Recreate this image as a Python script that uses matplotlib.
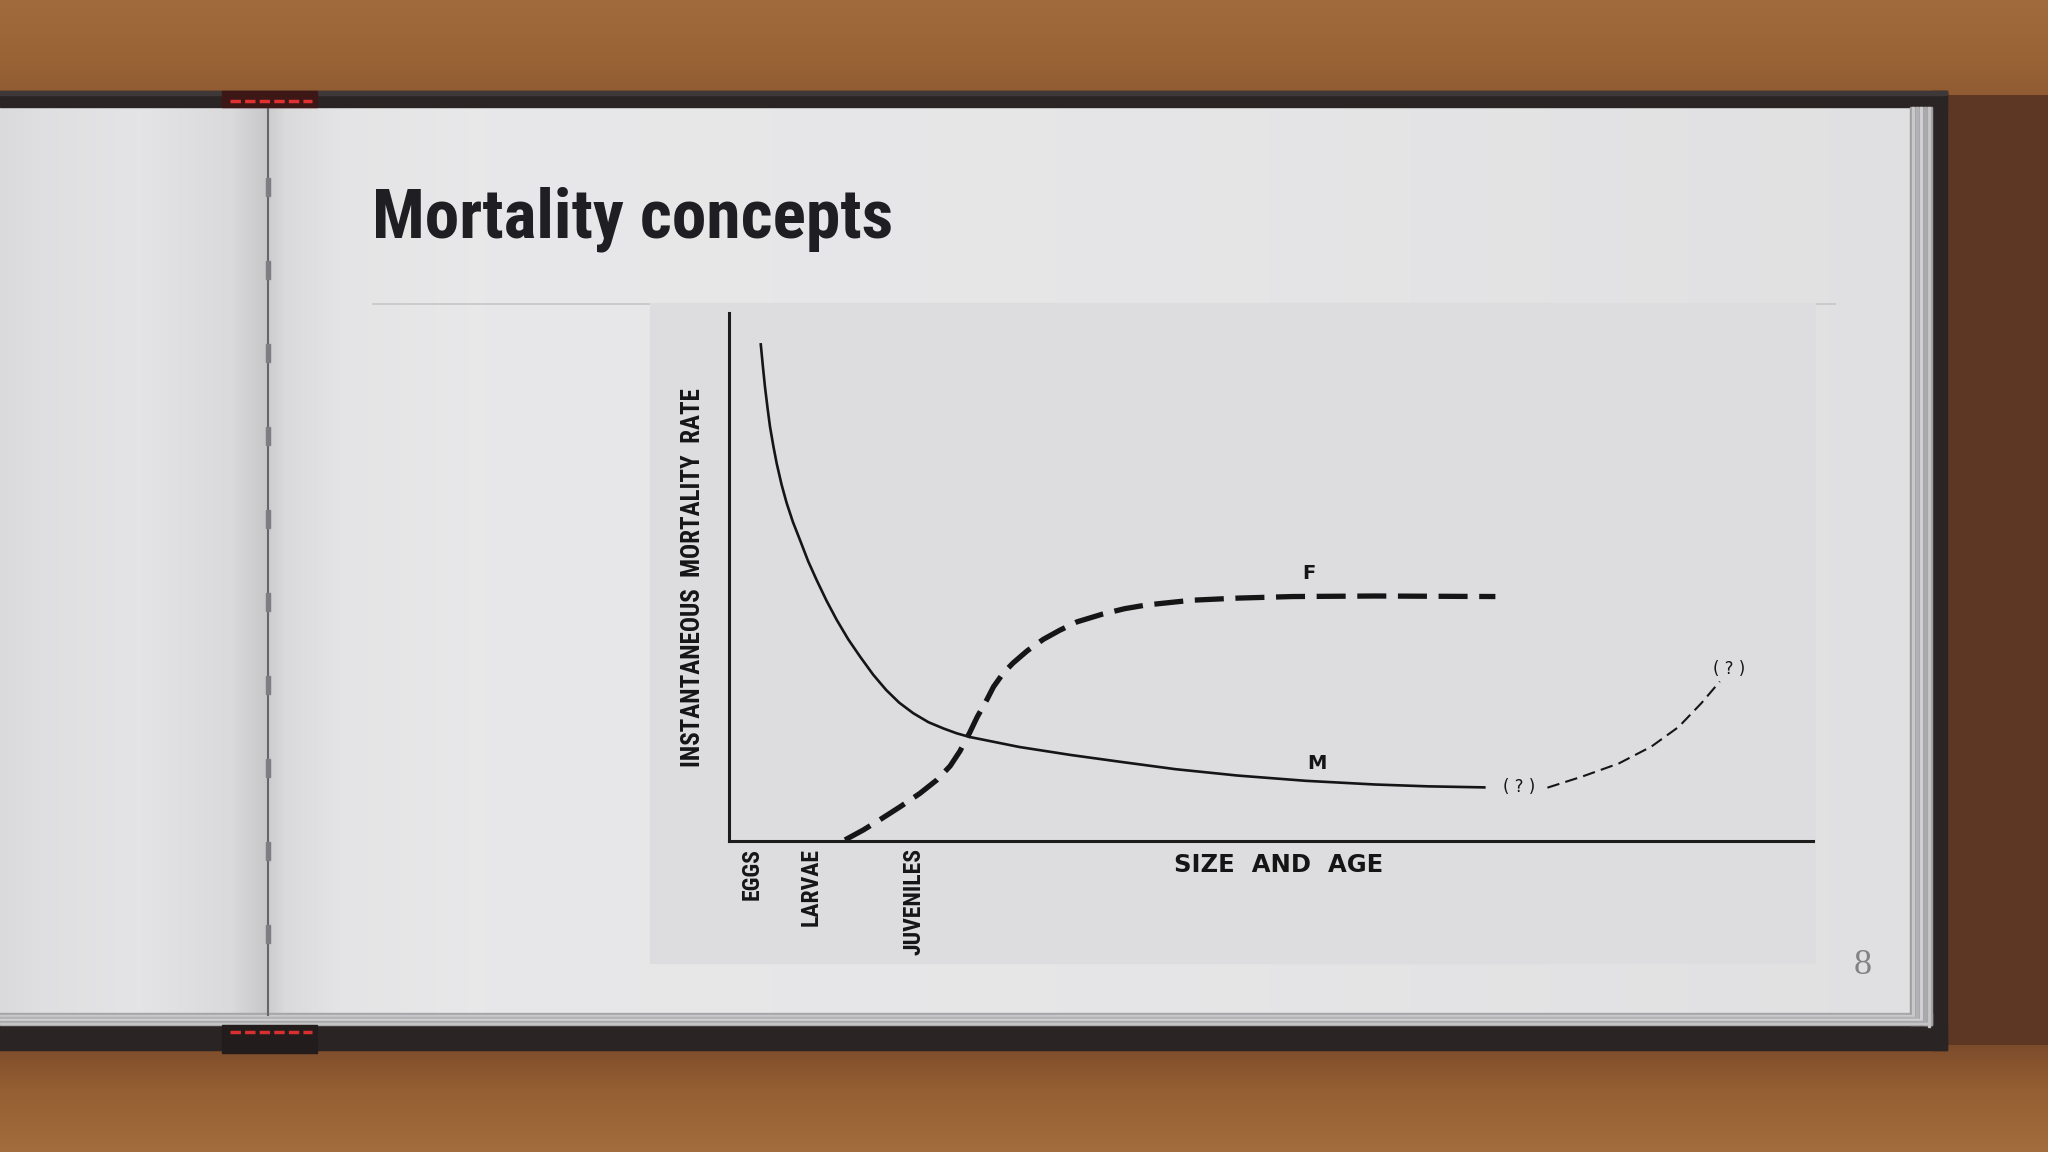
import numpy as np
import matplotlib
matplotlib.use('Agg')
import matplotlib.pyplot as plt
from matplotlib import font_manager as fm
from matplotlib.colors import to_rgb
from matplotlib.patches import Rectangle, FancyBboxPatch


# M curve (natural mortality), solid part
m_x = [2.92, 3.12, 3.32, 3.55, 3.78, 4.1, 4.4, 4.85, 5.32, 5.9, 6.55, 7.3, 8.09,
       9.0, 9.93, 11.0, 12.1, 13.3, 14.5, 15.7, 17.0, 18.4, 19.8, 21.0, 22.2,
       26.8, 31.5, 36.1, 41.2, 46.9, 53.2, 59.6, 64.5, 69.8]
m_y = [94.3, 90.0, 86.0, 82.1, 78.5, 74.7, 71.5, 67.5, 64.0, 60.4, 57.0, 53.0,
       49.4, 45.5, 41.9, 38.2, 34.9, 31.5, 28.6, 26.2, 24.2, 22.5, 21.3, 20.4,
       19.7, 17.8, 16.3, 15.0, 13.6, 12.4, 11.4, 10.7, 10.35, 10.15]

# M uncertain tail (thin dashed)
q_x = [75.5, 78.7, 82.1, 85.1, 87.6, 89.7, 91.4]
q_y = [10.1, 12.2, 14.7, 17.9, 21.6, 26.1, 30.2]

# F curve (fishing mortality), thick dashed
f_x = [10.7, 12.4, 13.9, 15.8, 17.6, 19.2, 20.4, 21.3, 22.2, 22.9, 23.8, 24.4,
       25.3, 26.2, 27.5, 29.0, 30.5, 32.1, 34.5, 36.5, 38.5, 42.7, 46.9, 52.0,
       59.6, 70.7]
f_y = [0.2, 2.1, 4.0, 6.5, 9.0, 11.6, 14.2, 17.0, 20.5, 23.5, 26.8, 29.2,
       31.8, 33.7, 36.0, 38.2, 39.9, 41.5, 43.0, 44.0, 44.7, 45.6, 46.0, 46.3,
       46.4, 46.3]

stage_labels = ['EGGS', 'LARVAE', 'JUVENILES']
stage_x = [2.1, 7.6, 17.1]

title = 'Mortality concepts'
page_number = '8'


def pick(names):
    for n in names:
        try:
            fm.findfont(fm.FontProperties(family=n), fallback_to_default=False)
            return n
        except ValueError:
            pass
    return 'DejaVu Sans'


narrow = pick(['Liberation Sans Narrow', 'Roboto Condensed', 'DejaVu Sans'])
serif = pick(['Liberation Serif', 'DejaVu Serif'])

W, H = 2048, 1152

# one background raster: wood, then the two pages
canvas = np.zeros((H, W, 3))
rows = np.arange(H)
cols = np.arange(W)
wood_ys = [0, 60, 100, 1040, 1090, H]
wood = [to_rgb(c) for c in ['#a26b3d', '#9a6336', '#8f5a33', '#7a4a2a', '#965f33', '#a46d3d']]
for k in range(3):
    canvas[:, :, k] = np.interp(rows, wood_ys, [c[k] for c in wood])[:, None]
dark = np.array(to_rgb('#5e3624'))
canvas[95:1045, 1940:] = dark


def page(x0, x1, y0, y1, xs, vals, tint=0.006):
    g = np.interp(cols[x0:x1], xs, vals)
    canvas[y0:y1, x0:x1, 0] = g
    canvas[y0:y1, x0:x1, 1] = g
    canvas[y0:y1, x0:x1, 2] = np.clip(g + tint, 0, 1)


fig = plt.figure(figsize=(W / 100, H / 100), dpi=100)
bg = fig.add_axes([0, 0, 1, 1])
bg.axis('off')

# cover first (painted into raster region by patches later), pages into raster
page(0, 268, 107, 1015, [0, 40, 140, 230, 268], [0.855, 0.875, 0.895, 0.855, 0.78])
page(268, 1912, 107, 1015, [268, 285, 340, 470, 1200, 1912], [0.80, 0.855, 0.895, 0.91, 0.9, 0.88])
bg.imshow(canvas, extent=[0, W, H, 0], interpolation='nearest', zorder=0)
bg.set_xlim(0, W)
bg.set_ylim(H, 0)

# cover (drawn around the pages)
cover = [(0, 91, 1947, 16), (0, 1025, 1947, 25), (1932, 91, 15, 959)]
for x, y, w, h in cover:
    bg.add_patch(Rectangle((x, y), w, h, color='#2a2425', zorder=1))
bg.add_patch(FancyBboxPatch((1930, 91), 17, 959, boxstyle='round,pad=0,rounding_size=6',
                            fc='#2a2425', ec='none', zorder=1))
bg.add_patch(Rectangle((0, 91), 1947, 4, color='#3e3838', zorder=1.2))

# page stack edges
bg.add_patch(Rectangle((0, 1013), 1932, 12, color='#a6a6a8', zorder=1.5))
bg.add_patch(Rectangle((1910, 107), 22, 918, color='#9e9ea0', zorder=1.5))
for i, c in enumerate(['#c9c9cb', '#b2b2b4', '#d0d0d2', '#aaaaac', '#c4c4c6']):
    bg.add_patch(Rectangle((1912 + i * 4, 107), 2, 912 + i * 2, color=c, zorder=1.6))
    bg.add_patch(Rectangle((0, 1015 + i * 2), 1912 + i * 4, 1, color=c, zorder=1.6))

# spine and stitches
bg.plot([268, 268], [107, 1015], color='#66666a', lw=1.5, zorder=3)
for sy in np.arange(187, 1000, 83):
    bg.add_patch(Rectangle((266, sy - 9), 4, 18, color='#7e7e82', zorder=3))

# bookmark ribbon
bg.add_patch(Rectangle((222, 91), 95, 16, color='#3d1616', zorder=3))
bg.plot([230, 312], [101, 101], color='#e03030', lw=2.5, dashes=(3, 1.2), zorder=4)
bg.add_patch(Rectangle((222, 1025), 95, 28, color='#231c1c', zorder=3))
bg.plot([230, 312], [1032, 1032], color='#d83030', lw=2.5, dashes=(3, 1.2), zorder=4)

# slide content
bg.text(372, 238, title, fontsize=50, fontweight='bold', family=narrow,
        color='#1f1f23', va='baseline', ha='left', zorder=5)
bg.plot([373, 1835], [304, 304], color='#c6c6c8', lw=1.2, zorder=4)
bg.add_patch(Rectangle((650, 303), 1165, 660, color='#dddde0', zorder=4))
bg.text(1863, 966, page_number, fontsize=26, family=serif, color='#838385',
        ha='center', va='center', zorder=5)

# the chart
ax = fig.add_axes([729 / W, (H - 841) / H, 1084 / W, 528 / H], zorder=6)
ax.patch.set_alpha(0)
ax.set_xlim(0, 100)
ax.set_ylim(0, 100)
for s in ['top', 'right']:
    ax.spines[s].set_visible(False)
for s in ['left', 'bottom']:
    ax.spines[s].set_color('#1c1c1c')
    ax.spines[s].set_linewidth(2.2)
ax.set_xticks([])
ax.set_yticks([])

ink = '#151515'
ax.plot(m_x, m_y, color=ink, lw=1.9, solid_capstyle='butt', solid_joinstyle='round', clip_on=False)
ax.plot(q_x, q_y, color=ink, lw=1.5, dashes=(6, 3), clip_on=False)
ax.plot(f_x, f_y, color=ink, lw=3.8, dashes=(5.5, 2.2), clip_on=False)

ax.text(53.5, 50.6, 'F', fontsize=14, fontweight='bold', color=ink, ha='center', va='center')
ax.text(54.2, 14.6, 'M', fontsize=14, fontweight='bold', color=ink, ha='center', va='center')
ax.text(72.9, 10.3, '( ? )', fontsize=12, color=ink, ha='center', va='center')
ax.text(92.3, 32.6, '( ? )', fontsize=12, color=ink, ha='center', va='center')

ax.text(-3.3, 49.8, 'INSTANTANEOUS  MORTALITY  RATE', rotation=90, fontsize=18,
        fontweight='bold', family=narrow, color=ink, ha='center', va='center', clip_on=False)
ax.text(50.7, -4.5, 'SIZE  AND  AGE', fontsize=17.5, fontweight='bold', color=ink,
        ha='center', va='center', clip_on=False)
for lab, x in zip(stage_labels, stage_x):
    ax.text(x, -1.4, lab, rotation=90, fontsize=17, fontweight='bold', family=narrow,
            color=ink, ha='center', va='top', clip_on=False)

fig.savefig('out.png', dpi=100)
